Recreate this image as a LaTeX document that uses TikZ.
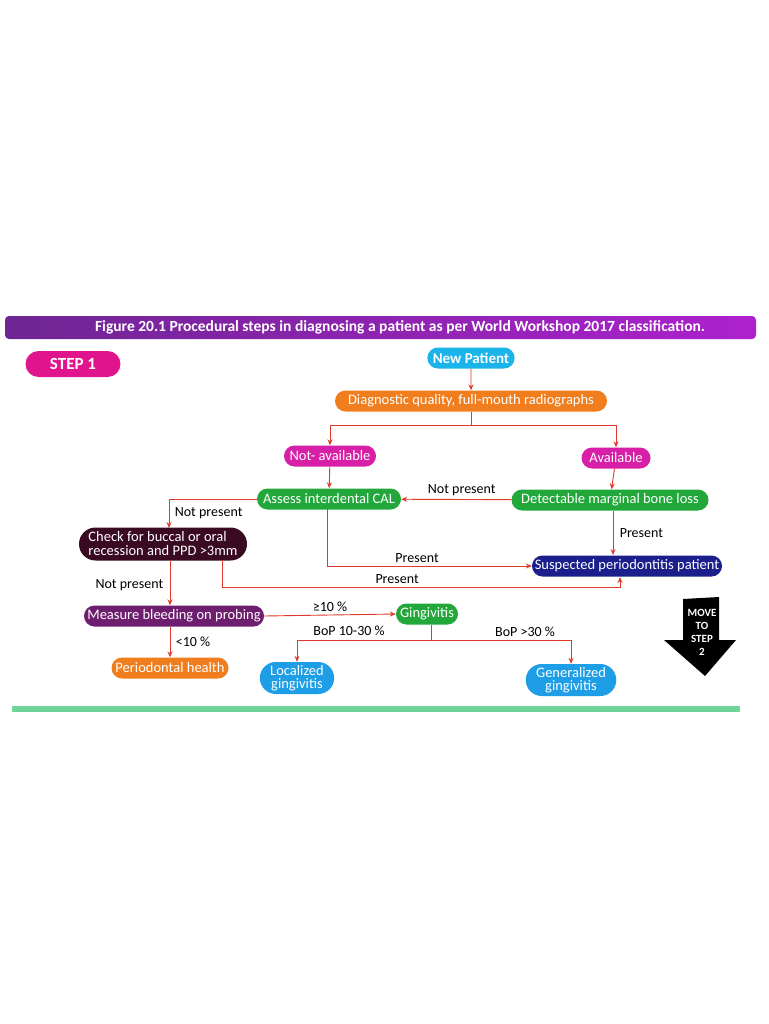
\documentclass[tikz,border=0pt]{standalone}
\usepackage{fontspec}
\setmainfont{Carlito}
\usetikzlibrary{shapes.misc,arrows.meta}
\definecolor{ttl}{HTML}{8A2FB8}
\definecolor{cpink}{HTML}{E0148C}
\definecolor{ccyan}{HTML}{1BB4EA}
\definecolor{corange}{HTML}{F07E1E}
\definecolor{cmag}{HTML}{D81FA8}
\definecolor{cgreen}{HTML}{22A83A}
\definecolor{cdark}{HTML}{3A0A22}
\definecolor{cnavy}{HTML}{1A1F8C}
\definecolor{cpurp}{HTML}{6E1E6E}
\definecolor{cblue}{HTML}{1E9EE6}
\definecolor{cred}{HTML}{E03A2A}
\definecolor{cgbar}{HTML}{6ED49A}
\tikzset{
 bx/.style={rounded rectangle, fill=#1, text=white, inner xsep=4pt, inner ysep=1pt, minimum height=21pt, font=\fontsize{14.5}{15}\selectfont, align=center},
 ln/.style={draw=cred, line width=0.9pt},
 ar/.style={ln, -{Stealth[length=6pt,width=5pt]}},
 lb/.style={font=\fontsize{14}{15}\selectfont, text=black}
}
\begin{document}
\begin{tikzpicture}[x=1pt,y=-1pt]
\useasboundingbox (0,0) rectangle (768,1024);
\fill[white] (0,0) rectangle (768,1024);
% title bar
\shade[left color=ttl!80!black, right color=ttl!70!magenta, rounded corners=4pt] (5,316) rectangle (756,339);
\node[text=white, font=\bfseries\fontsize{15.5}{16}\selectfont] (title) at (400,327) {Figure 20.1 Procedural steps in diagnosing a patient as per World Workshop 2017 classification.};
\node[bx=cpink, minimum width=103pt, minimum height=26pt, font=\bfseries\fontsize{17}{18}\selectfont] (step) at (73,364) {STEP 1};
% nodes
\node[bx=ccyan, font=\bfseries\fontsize{15}{16}\selectfont] (np) at (471,358) {New Patient};
\node[bx=corange, minimum width=280pt] (diag) at (471,401) {Diagnostic quality, full-mouth radiographs};
\node[bx=cmag, minimum width=100pt] (na) at (330,456) {Not- available};
\node[bx=cmag, minimum width=77pt] (av) at (616,458) {Available};
\node[bx=cgreen, minimum width=152pt] (cal) at (329,499) {Assess interdental CAL};
\node[bx=cgreen, minimum width=205pt] (dmb) at (610,500) {Detectable marginal bone loss};
\node[bx=cdark, minimum width=176pt, minimum height=33pt, font=\fontsize{14.5}{14}\selectfont, align=left] (chk) at (163,544) {Check for buccal or oral\\recession and PPD >3mm};
\node[bx=cnavy, minimum width=198pt] (spp) at (627,566) {Suspected periodontitis patient};
\node[bx=cpurp, minimum width=188pt] (mbp) at (174,616) {Measure bleeding on probing};
\node[bx=cgreen, minimum width=70pt] (gg) at (427,614) {Gingivitis};
\node[bx=corange, minimum width=125pt] (ph) at (170,668) {Periodontal health};
\node[bx=cblue, minimum width=70pt, minimum height=32pt, font=\fontsize{14.5}{13}\selectfont] (lg) at (297,678) {Localized\\gingivitis};
\node[bx=cblue, minimum width=88pt, minimum height=32pt, font=\fontsize{14.5}{13}\selectfont] (gz) at (571,680) {Generalized\\gingivitis};
% connectors
\draw[ar] (np) -- (diag);
\coordinate (sp1) at (471,425);
\draw[ln] (diag.south) -- (sp1);
\draw[ar] (sp1) -| (na.north);
\draw[ar] (sp1) -| (av.north);
\draw[ar] (na) -- (cal);
\draw[ar] (av) -- (dmb);
\draw[ar] (dmb) -- node[lb, above, pos=0.45] {Not present} (cal);
\draw[ar] (cal.west) -| node[lb, pos=0.75, right, xshift=2pt] {Not present} (169,528);
\draw[ar] (327,509) |- node[lb, pos=0.72, above] {Present} (spp.west);
\draw[ar] (613,511) -- node[lb, right, xshift=3pt] {Present} (613,555);
\draw[ar] (222,560) |- node[lb, pos=0.72, above] {Present} (620,587) -- (620,577);
\draw[ar] (170,561) -- node[lb, left, xshift=-3pt, pos=0.55] {Not present} (mbp.north -| 170,0);
\draw[ar] (mbp.east) -- node[lb, above, pos=0.5] {≥10 \%} (gg.west);
\draw[ar] (170,627) -- node[lb, right, xshift=2pt] {<10 \%} (ph.north -| 170,0);
\coordinate (sp2) at (431,640);
\draw[ln] (431,625) -- (sp2);
\draw[ar] (sp2) -| (lg.north);
\draw[ar] (sp2) -| (gz.north);
\node[lb] (l1) at (349,631) {BoP 10-30 \%};
\node[lb] (l2) at (525,632) {BoP >30 \%};
% move to step 2 arrow
\fill[black] (683,599) -- (719,597) -- (719,640) -- (736,640) -- (705,676) -- (664,640) -- (683,640) -- cycle;
\node[text=white, font=\bfseries\fontsize{11}{13}\selectfont, align=center] (mv) at (702,632) {MOVE\\TO\\STEP\\2};
% bottom green bar
\fill[cgbar] (12,706) rectangle (740,712);
\end{tikzpicture}
\end{document}
